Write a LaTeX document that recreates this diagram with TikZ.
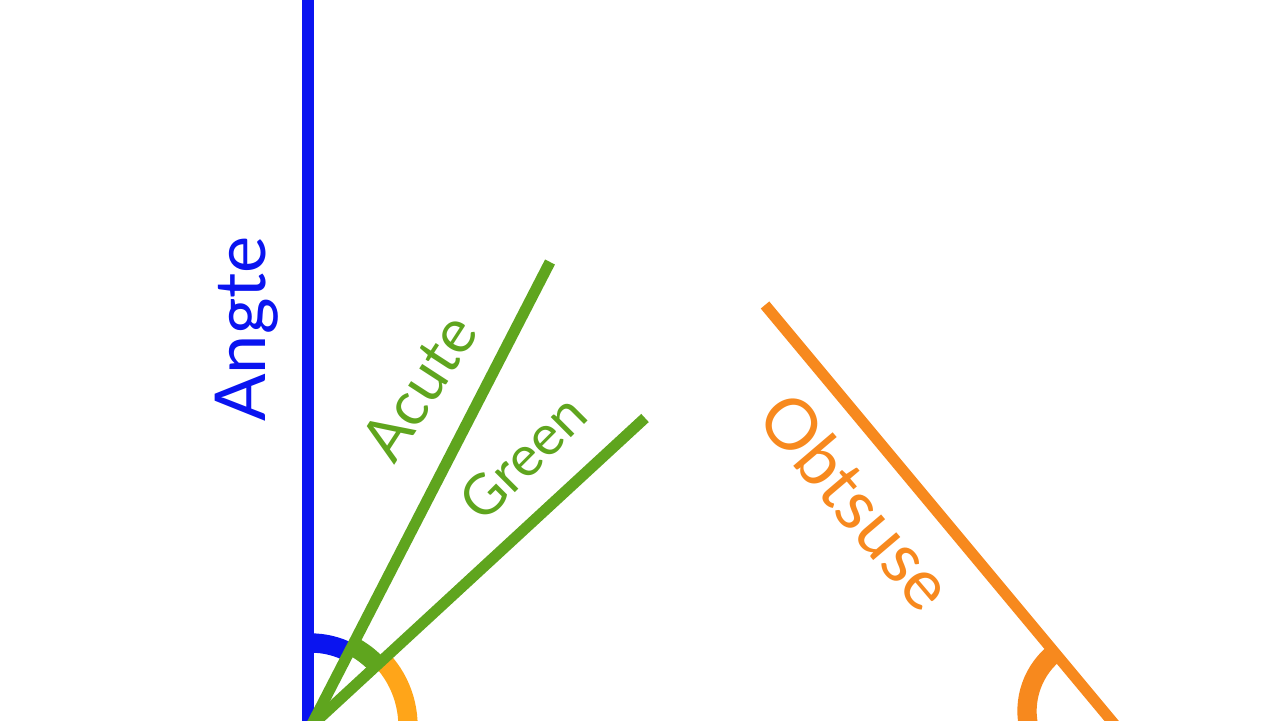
\documentclass[tikz,border=0pt]{standalone}
\usepackage{fontspec}
\setmainfont{Lato}
\usetikzlibrary{positioning}
\definecolor{angblue}{RGB}{10,20,240}
\definecolor{angreen}{RGB}{95,165,30}
\definecolor{angorange}{RGB}{247,137,30}
\definecolor{arcorange}{RGB}{255,165,25}

\begin{document}
\begin{tikzpicture}[x=0.02cm,y=0.02cm,
    arm/.style={line width=6.3pt},
    anglemark/.style={line width=11pt},
    lbl/.style={inner sep=0pt,font=\fontsize{40}{48}\selectfont},
    small lbl/.style={inner sep=0pt,font=\fontsize{35}{42}\selectfont}]
    \useasboundingbox (0,0) rectangle (1280,-720);
    \clip (0,0) rectangle (1280,-720);
    % left group
    \coordinate (V) at (311,-726);
    \coordinate (Vtop) at (308,10);
    \coordinate (A1) at (550,-262);
    \coordinate (A2) at (645,-418);
    \draw [angblue,arm] (Vtop) -- (308,-730);
    \draw [angblue,anglemark] (V) ++(90:83) arc (90:62:83);
    \draw [angreen,anglemark] (V) ++(63:90) arc (63:42:90);
    \draw [arcorange,anglemark] (V) ++(43:97) arc (43:-10:97);
    \draw [angreen,arm] (V) -- (A1);
    \draw [angreen,arm] (V) -- (A2);
    \node [lbl,angblue,rotate=90] (angte) at (247,-329) {Angte};
    \node [small lbl,angreen,rotate=57] (acute) at (419,-387) {Acute};
    \node [small lbl,angreen,rotate=45,font=\fontsize{32}{38}\selectfont] (green) at (523,-457) {Green};
    % right group
    \coordinate (O1) at (765,-305);
    \coordinate (O2) at (1165,-785);
    \coordinate (P) at (1102,-711);
    \draw [angorange,arm] (O1) -- (O2);
    \draw [angorange,anglemark] (P) ++(129.7:75) arc (129.7:200:75);
    \node [lbl,angorange,rotate=-49.6] (obtsuse) at (857,-501) {Obtsuse};
\end{tikzpicture}
\end{document}
